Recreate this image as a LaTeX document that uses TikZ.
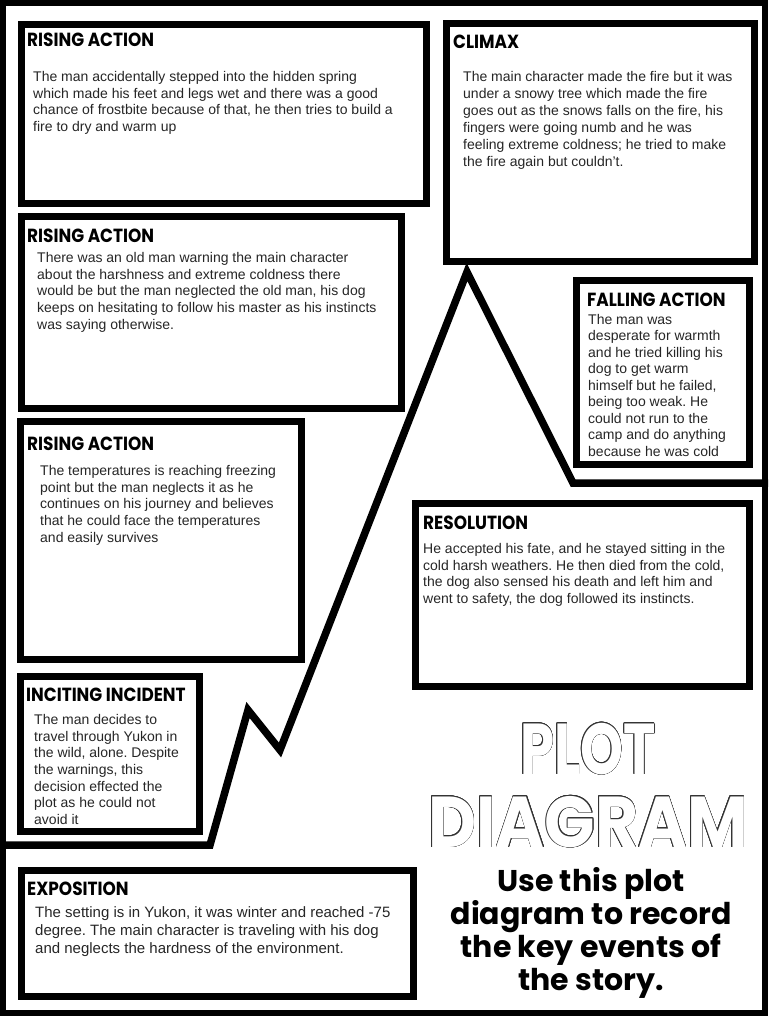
\documentclass[tikz,border=0pt]{standalone}
\usepackage{fontspec}
\usepackage{contour}
\usepackage{tikz}
\setsansfont{Liberation Sans}
\newfontfamily\popfont{Poppins}
\newcommand{\headfont}{\popfont\bfseries\fontsize{19}{19}\selectfont}
\newcommand{\bodyfont}{\sffamily\fontsize{14}{16.7}\selectfont}
\newcommand{\expofont}{\sffamily\fontsize{15}{18}\selectfont}
\contourlength{0.7pt}
\frenchspacing

\begin{document}
\begin{tikzpicture}[x=1pt,y=-1pt,
    panel/.style={draw=black, line width=7pt, fill=white},
    head/.style={anchor=base west, font=\headfont, xscale=0.89},
    body/.style={anchor=north west, align=left, font=\bodyfont, text=black!85},
    expobody/.style={body, font=\expofont},
    plotline/.style={line width=7.5pt, line join=miter}]
    \tikzstyle{every node}+=[inner sep=0pt]
    \useasboundingbox (0,0) rectangle (768,1024);
    \draw [line width=6pt] (3,3) rectangle (765,1012.5);
    \draw [plotline] (0,845) -- (210,845) -- (248,710) -- (280,750) -- (467,272) -- (573,483) -- (768,483);
    % rising action 1
    \draw [panel] (21.5,24.5) rectangle (426.5,203.5);
    \node [head] (ra1head) at (27,47) {RISING ACTION};
    \node [body] (ra1text) at (33,71) {The man accidentally stepped into the hidden spring\\which made his feet and legs wet and there was a good\\chance of frostbite because of that, he then tries to build a\\fire to dry and warm up};
    % climax
    \draw [panel] (446.5,23.5) rectangle (754.5,261.5);
    \node [head] (clhead) at (453,49) {CLIMAX};
    \node [body, font=\sffamily\fontsize{14}{17}\selectfont] (cltext) at (463,71) {The main character made the fire but it was\\under a snowy tree which made the fire\\goes out as the snows falls on the fire, his\\fingers were going numb and he was\\feeling extreme coldness; he tried to make\\the fire again but couldn’t.};
    % rising action 2
    \draw [panel] (21.5,216.5) rectangle (401.5,408.5);
    \node [head] (ra2head) at (27,243) {RISING ACTION};
    \node [body] (ra2text) at (37,252) {There was an old man warning the main character\\about the harshness and extreme coldness there\\would be but the man neglected the old man, his dog\\keeps on hesitating to follow his master as his instincts\\was saying otherwise.};
    % falling action
    \draw [panel] (576.5,280.5) rectangle (749.5,464.5);
    \node [head] (fahead) at (587,306) {FALLING ACTION};
    \node [body, font=\sffamily\fontsize{14}{16.5}\selectfont] (fatext) at (588,314) {The man was\\desperate for warmth\\and he tried killing his\\dog to get warm\\himself but he failed,\\being too weak. He\\could not run to the\\camp and do anything\\because he was cold};
    % rising action 3
    \draw [panel] (20.5,421.5) rectangle (301.5,659.5);
    \node [head] (ra3head) at (27,450) {RISING ACTION};
    \node [body] (ra3text) at (40,465) {The temperatures is reaching freezing\\point but the man neglects it as he\\continues on his journey and believes\\that he could face the temperatures\\and easily survives};
    % resolution
    \draw [panel] (415.5,503.5) rectangle (749.5,686.5);
    \node [head] (reshead) at (423,529) {RESOLUTION};
    \node [body] (restext) at (423,543) {He accepted his fate, and he stayed sitting in the\\cold harsh weathers. He then died from the cold,\\the dog also sensed his death and left him and\\went to safety, the dog followed its instincts.};
    % inciting incident
    \draw [panel] (20.5,676.5) rectangle (199.5,831.5);
    \node [head] (inchead) at (26,701) {INCITING INCIDENT};
    \node [body] (inctext) at (34,714) {The man decides to\\travel through Yukon in\\the wild, alone. Despite\\the warnings, this\\decision effected the\\plot as he could not\\avoid it};
    % exposition
    \draw [panel] (21.5,870.5) rectangle (413.5,996.5);
    \node [head] (exphead) at (27,895) {EXPOSITION};
    \node [expobody] (exptext) at (35,906) {The setting is in Yukon, it was winter and reached -75\\degree. The main character is traveling with his dog\\and neglects the hardness of the environment.};
    % title
    \node [anchor=base, font=\popfont\bfseries\fontsize{72}{72}\selectfont, xscale=0.76] (plot) at (588,774) {\color{white}\contour{black!80}{PLOT}};
    \node [anchor=base, font=\popfont\bfseries\fontsize{72}{72}\selectfont, xscale=0.92] (diagram) at (588,847) {\color{white}\contour{black!80}{DIAGRAM}};
    \node [anchor=north, align=center, font=\popfont\bfseries\fontsize{30}{33}\selectfont] (note) at (591,867) {Use this plot\\diagram to record\\the key events of\\the story.};
\end{tikzpicture}
\end{document}
